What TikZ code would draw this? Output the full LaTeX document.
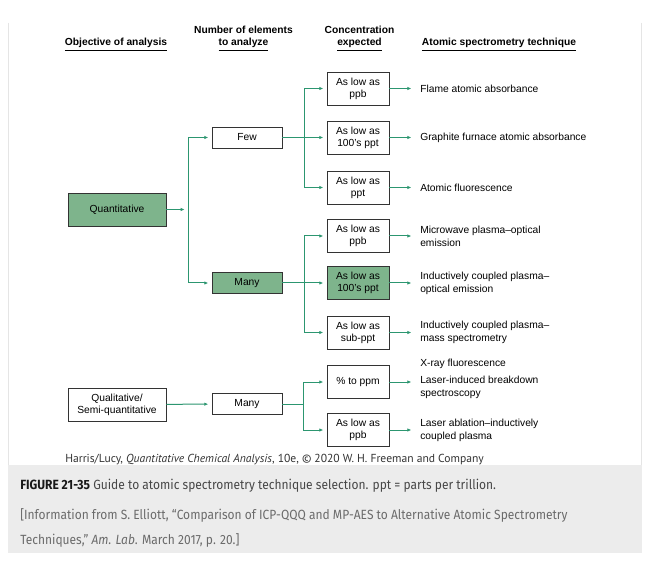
\documentclass[tikz,border=0pt]{standalone}
\usepackage{fontspec}
\setmainfont{Liberation Sans}
\newfontfamily\capfont[FakeStretch=0.9]{Fira Sans}
\newfontfamily\footfont{PT Sans}
\usepackage{xcolor}
\usetikzlibrary{arrows.meta,positioning}
\definecolor{boxgreen}{RGB}{126,180,140}
\definecolor{linegreen}{RGB}{44,150,112}
\definecolor{capgray}{RGB}{236,236,236}
\tikzset{
  box/.style   ={draw=black!80,line width=0.6pt,inner sep=0pt,align=center,
                 font=\fontsize{7.7}{9.2}\selectfont},
  conc/.style  ={box,minimum width=46.5pt,minimum height=24.75pt},
  numb/.style  ={box,minimum width=52.5pt,minimum height=15.75pt},
  obj/.style   ={box,minimum width=73.5pt,minimum height=24.75pt},
  hit/.style   ={fill=boxgreen},
  head/.style  ={anchor=south,align=center,inner sep=0pt,
                 font=\bfseries\fontsize{7.7}{9}\selectfont},
  tech/.style  ={anchor=west,align=left,inner sep=0pt,
                 font=\fontsize{7.7}{9.6}\selectfont},
  link/.style  ={linegreen,line width=0.75pt},
  flow/.style  ={link,-{Latex[length=3pt,width=2.6pt]},shorten >=2.5pt},
  toTech/.style={flow,shorten >=6.5pt},
  capline/.style={anchor=base west,inner sep=0pt,
                 font=\capfont\fontsize{10}{12}\selectfont},
}

\begin{document}
\begin{tikzpicture}[x=0.75pt,y=-0.75pt]
  % page and caption panel
  \useasboundingbox (0,0) rectangle (645,566);
  \fill[white] (0,0) rectangle (645,566);
  \draw[black!10,line width=0.6pt] (8,23) -- (8,465);
  \draw[black!10,line width=0.6pt] (641.5,23) -- (641.5,465);
  \fill[capgray] (8,465) rectangle (642,553);
  % column heads
  \node[head] (hObj)  at (116,51) {\underline{Objective of analysis}};
  \node[head] (hNum)  at (243.5,51) {Number of elements\\\underline{to analyze}};
  \node[head] (hConc) at (359.5,51) {Concentration\\\underline{expected}};
  \node[head] (hTech) at (499,51) {\underline{Atomic spectrometry technique}};
  % objective
  \node[obj,hit] (quant) at (117,209.5) {Quantitative};
  \node[obj]     (qual)  at (117,404.5) {Qualitative/\\Semi-quantitative};
  % number of elements
  \node[numb]     (few)   at (247,137.5) {Few};
  \node[numb,hit] (many)  at (247,283) {Many};
  \node[numb]     (manyQ) at (247,404) {Many};
  % concentration expected
  \node[conc]     (ppbA)    at (358,88.5)  {As low as\\ppb};
  \node[conc]     (pptA)    at (358,137.5) {As low as\\100's ppt};
  \node[conc]     (ppt)     at (358,187.5) {As low as\\ppt};
  \node[conc]     (ppbB)    at (358,236)   {As low as\\ppb};
  \node[conc,hit] (pptB)    at (358,283)   {As low as\\100's ppt};
  \node[conc]     (subppt)  at (358,332.5) {As low as\\sub-ppt};
  \node[conc]     (pctppm)  at (358,382)   {\% to ppm};
  \node[conc]     (ppbC)    at (358,430)   {As low as\\ppb};
  % techniques
  \node[tech] (flame)    at (420,88.5)  {Flame atomic absorbance};
  \node[tech] (graphite) at (420,137.5) {Graphite furnace atomic absorbance};
  \node[tech] (afluor)   at (420,187.5) {Atomic fluorescence};
  \node[tech] (mpoes)    at (420,236)   {Microwave plasma--optical\\emission};
  \node[tech] (icpoes)   at (420,283)   {Inductively coupled plasma--\\optical emission};
  \node[tech] (icpms)    at (420,332.5) {Inductively coupled plasma--\\mass spectrometry};
  \node[tech] (xrf)      at (420,364)   {X-ray fluorescence};
  \node[tech] (libs)     at (420,387)   {Laser-induced breakdown\\spectroscopy};
  \node[tech] (laicp)    at (420,430)   {Laser ablation--inductively\\coupled plasma};
  % branch points
  \coordinate (jq) at (188,209.5);
  \coordinate (jf) at (304,137.5);
  \coordinate (jm) at (304,283);
  \coordinate (js) at (303,404);
  % quantitative tree
  \draw[flow] (quant) -- (jq);
  \draw[flow] (jq) |- (few);
  \draw[flow] (jq) |- (many);
  \draw[link] (few) -- (jf);
  \draw[flow] (jf) |- (ppbA);
  \draw[flow] (few) -- (pptA);
  \draw[flow] (jf) |- (ppt);
  \draw[link] (many) -- (jm);
  \draw[flow] (jm) |- (ppbB);
  \draw[flow] (many) -- (pptB);
  \draw[flow] (jm) |- (subppt);
  % qualitative tree
  \draw[flow] (qual) -- (manyQ);
  \draw[link] (manyQ) -- (js);
  \draw[flow] (js) |- (pctppm);
  \draw[flow] (js) |- (ppbC);
  % to techniques
  \foreach \c/\t in {ppbA/flame,pptA/graphite,ppt/afluor,ppbB/mpoes,
                     pptB/icpoes,subppt/icpms,pctppm/libs,ppbC/laicp}
    \draw[toTech] (\c.east) -- (\c.east -| \t.west);
  % credit line and caption
  \node[anchor=base west,inner sep=0pt,font=\footfont\fontsize{8.7}{10}\selectfont,
        text=black!80] (credit) at (65,462)
    {Harris/Lucy, \textit{Quantitative Chemical Analysis}, 10e, \textcopyright{} 2020 W. H. Freeman and Company};
  \node[capline,text=black!72] (figcap) at (20,489)
    {\textcolor{black!90}{\textbf{FIGURE 21-35}} Guide to atomic spectrometry technique selection. ppt = parts per trillion.};
  \node[capline,text=black!58] (source) at (20,519)
    {[Information from S. Elliott, “Comparison of ICP-QQQ and MP-AES to Alternative Atomic Spectrometry};
  \node[capline,text=black!58] (source2) at (20,544)
    {Techniques,” \textit{Am. Lab}. March 2017, p. 20.]};
\end{tikzpicture}
\end{document}
